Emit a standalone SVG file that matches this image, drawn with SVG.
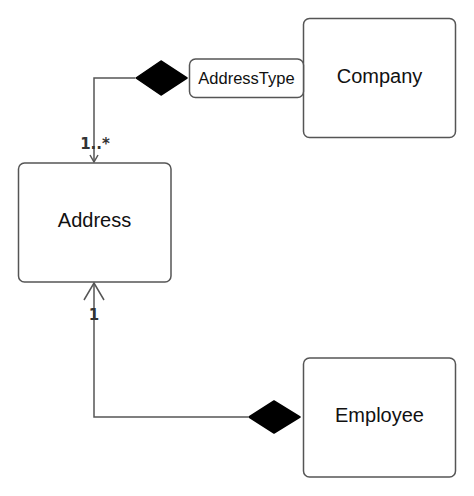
<svg xmlns="http://www.w3.org/2000/svg" width="474" height="496" viewBox="0 0 474 496">
<style>
.box{fill:#fff;stroke:#555;stroke-width:1.5}
.name{font-family:"Liberation Sans",Arial,sans-serif;font-size:20px;fill:#111;text-anchor:middle}
.small{font-family:"Liberation Sans",Arial,sans-serif;font-size:16.5px;fill:#111;text-anchor:middle}
.mult{font-family:"DejaVu Sans",sans-serif;font-weight:bold;font-size:15px;fill:#333;text-anchor:middle}
.line{fill:none;stroke:#555;stroke-width:1.5}
.dia{fill:#000;stroke:#000;stroke-width:1.5;stroke-linejoin:round}
</style>
<rect width="474" height="496" fill="#fff"/>
<g id="connectors">
<path class="line" d="M135,78 H94 V162"/>
<path class="line" d="M90,155 L94,162 L98,155"/>
<path class="dia" d="M136,78 L161,61 L187,78 L161,95 Z"/>
<path class="line" d="M248,417 H94 V283"/>
<path class="line" d="M84,300 L94,283 L104,300"/>
<path class="dia" d="M249,417 L274,401 L300,417 L274,433 Z"/>
<text class="mult" x="95" y="149">1..*</text>
<text class="mult" x="94" y="320">1</text>
</g>
<g id="company">
<rect class="box" x="303.5" y="18.5" width="152" height="119" rx="6"/>
<text class="name" x="379.5" y="83">Company</text>
</g>
<g id="addresstype">
<rect class="box" x="189.5" y="59" width="114" height="38.5" rx="6"/>
<text class="small" x="246.5" y="83.5">AddressType</text>
</g>
<g id="address">
<rect class="box" x="18.5" y="163" width="152.5" height="119" rx="6"/>
<text class="name" x="94.5" y="227">Address</text>
</g>
<g id="employee">
<rect class="box" x="303.5" y="358" width="152" height="119" rx="6"/>
<text class="name" x="379.5" y="422">Employee</text>
</g>
</svg>
